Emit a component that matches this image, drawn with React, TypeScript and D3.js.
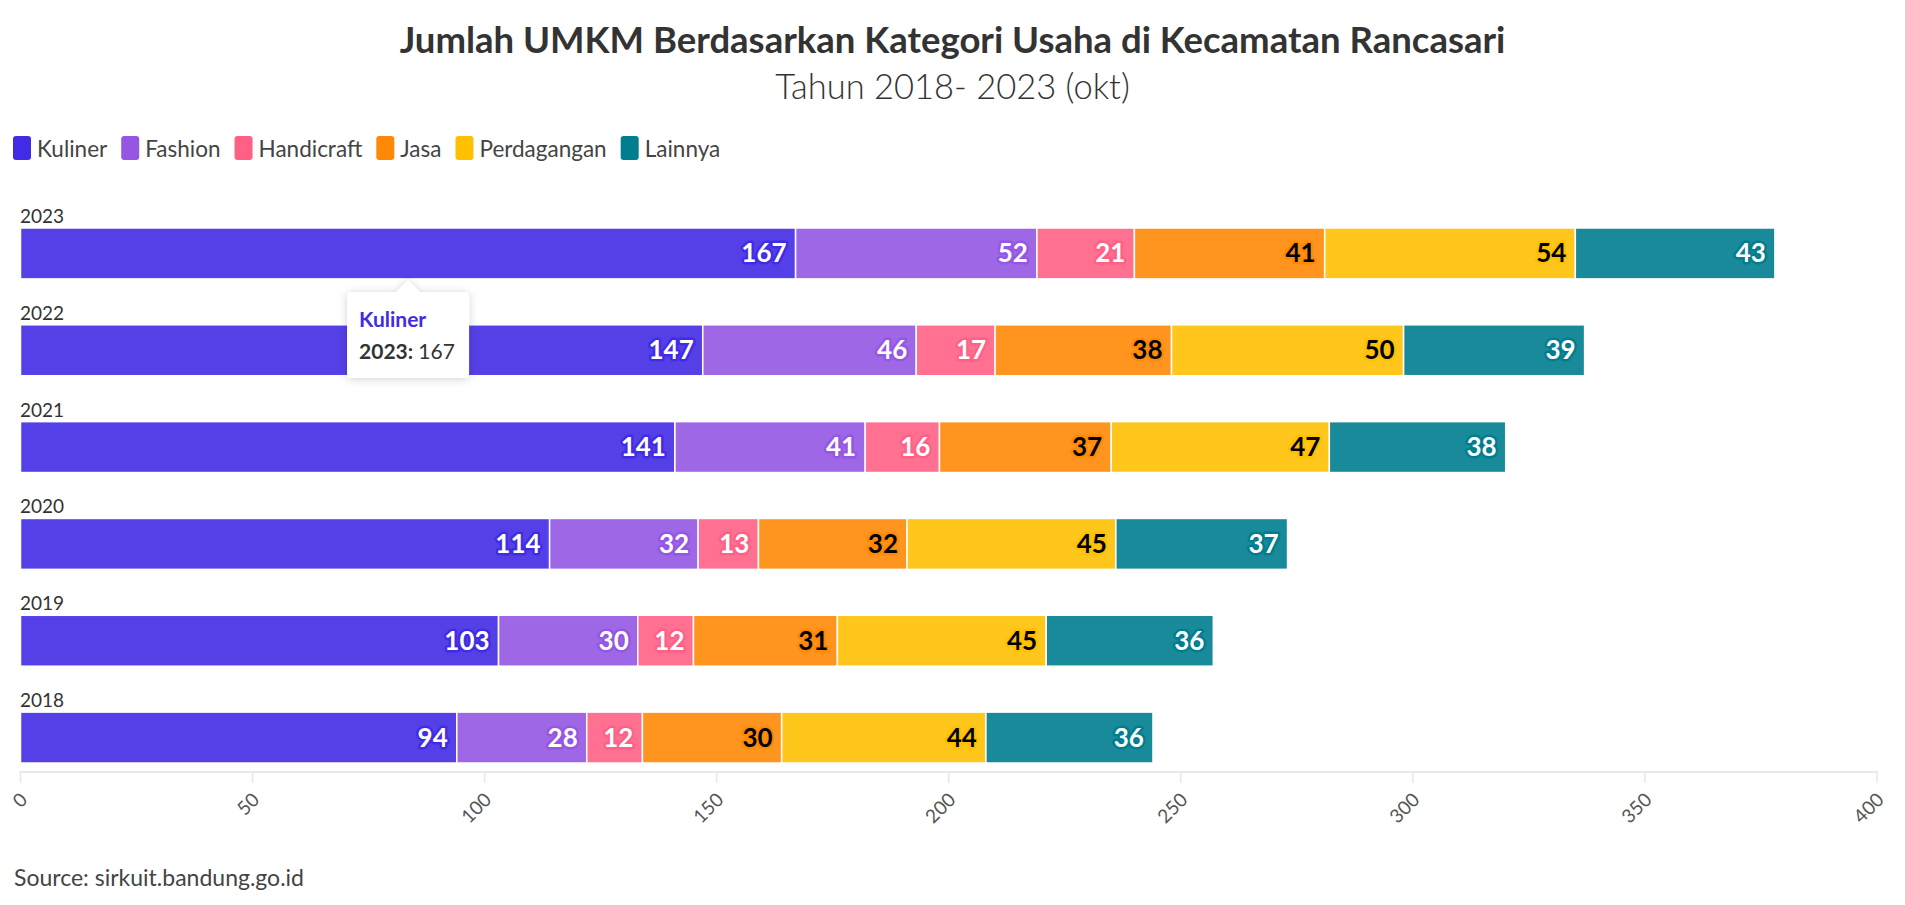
import React, { useEffect, useRef } from "react";
import * as d3 from "d3";

const years = ["2023", "2022", "2021", "2020", "2019", "2018"];
const categories = ["Kuliner", "Fashion", "Handicraft", "Jasa", "Perdagangan", "Lainnya"];
const colors = ["#422be5", "#9456e3", "#ff6085", "#ff8906", "#ffc002", "#007d8e"];
const labelColors = ["#fff", "#fff", "#fff", "#000", "#000", "#fff"];
const kuliner = [167, 147, 141, 114, 103, 94];
const fashion = [52, 46, 41, 32, 30, 28];
const handicraft = [21, 17, 16, 13, 12, 12];
const jasa = [41, 38, 37, 32, 31, 30];
const perdagangan = [54, 50, 47, 45, 45, 44];
const lainnya = [43, 39, 38, 37, 36, 36];
const xTicks = [0, 50, 100, 150, 200, 250, 300, 350, 400];

const W = 1905;
const H = 905;
const FONT = "Lato, 'Noto Sans', sans-serif";

export default function App() {
  const ref = useRef<SVGSVGElement | null>(null);

  useEffect(() => {
    const svg = d3.select(ref.current);
    svg.selectAll("*").remove();

    const series = [kuliner, fashion, handicraft, jasa, perdagangan, lainnya];
    const rows = years.map((yr, i) => {
      const r: any = { year: yr };
      categories.forEach((c, j) => (r[c] = series[j][i]));
      return r;
    });
    const stacked = d3.stack().keys(categories)(rows);

    const x = d3.scaleLinear().domain([0, 400]).range([20.5, 1877]);
    const y = d3.scaleBand().domain(years).range([228, 763]).paddingInner(46 / 97).paddingOuter(0);

    const defs = svg.append("defs");
    const f = defs.append("filter").attr("id", "shadow").attr("x", "-30%").attr("y", "-30%").attr("width", "160%").attr("height", "160%");
    f.append("feDropShadow").attr("dx", 0).attr("dy", 1).attr("stdDeviation", 4).attr("flood-color", "#000").attr("flood-opacity", 0.18);

    // Title
    svg.append("text").attr("x", W / 2).attr("y", 53).attr("text-anchor", "middle")
      .attr("font-family", FONT).attr("font-weight", 700).attr("font-size", 36.5).attr("fill", "#333")
      .text("Jumlah UMKM Berdasarkan Kategori Usaha di Kecamatan Rancasari");
    svg.append("text").attr("x", W / 2).attr("y", 99).attr("text-anchor", "middle")
      .attr("font-family", FONT).attr("font-weight", 300).attr("font-size", 34.5).attr("fill", "#333")
      .text("Tahun 2018- 2023 (okt)");

    // Legend
    const leg = svg.append("g");
    let lx = 13;
    categories.forEach((c, j) => {
      leg.append("rect").attr("x", lx).attr("y", 136).attr("width", 18).attr("height", 24).attr("rx", 3).attr("fill", colors[j]);
      const t = leg.append("text").attr("x", lx + 24).attr("y", 157).attr("font-family", FONT).attr("font-size", 22.5).attr("fill", "#444").text(c);
      const w = (t.node() as SVGTextElement).getComputedTextLength();
      lx = lx + 24 + w + 14;
    });

    // Axis
    const ax = svg.append("g");
    ax.append("line").attr("x1", x(0) - 1).attr("x2", x(400) + 1).attr("y1", 772).attr("y2", 772).attr("stroke", "#e8e8e8").attr("stroke-width", 2);
    xTicks.forEach((t) => {
      ax.append("line").attr("x1", x(t)).attr("x2", x(t)).attr("y1", 772).attr("y2", 783).attr("stroke", "#e8e8e8").attr("stroke-width", 1.5);
      ax.append("text").attr("transform", `translate(${x(t) + 8},${801}) rotate(-45)`).attr("text-anchor", "end")
        .attr("font-family", FONT).attr("font-size", 19).attr("fill", "#555").text(String(t));
    });

    // Year labels
    years.forEach((yr) => {
      svg.append("text").attr("x", 20).attr("y", (y(yr) as number) - 5).attr("font-family", FONT).attr("font-size", 19).attr("fill", "#333").text(yr);
    });

    // Bars
    stacked.forEach((s, j) => {
      const g = svg.append("g");
      g.selectAll("rect").data(s).join("rect")
        .attr("x", (d: any) => x(d[0]))
        .attr("y", (d: any) => y(d.data.year) as number)
        .attr("width", (d: any) => x(d[1]) - x(d[0]))
        .attr("height", y.bandwidth())
        .attr("fill", colors[j]).attr("fill-opacity", 0.9)
        .attr("stroke", "#fff").attr("stroke-width", 1.5);
    });
    stacked.forEach((s, j) => {
      const g = svg.append("g");
      g.selectAll("text").data(s).join("text")
        .attr("x", (d: any) => x(d[1]) - 9)
        .attr("y", (d: any) => (y(d.data.year) as number) + y.bandwidth() / 2 + 9)
        .attr("text-anchor", "end")
        .attr("font-family", FONT).attr("font-weight", 700).attr("font-size", 26)
        .attr("fill", labelColors[j])
        .attr("stroke", colors[j]).attr("stroke-width", 5).attr("stroke-linejoin", "round")
        .attr("paint-order", "stroke")
        .text((d: any) => String(d[1] - d[0]));
    });

    // Tooltip for Kuliner 2023
    const tv = kuliner[0];
    const cx = (x(0) + x(tv)) / 2;
    const barBottom = (y(years[0]) as number) + y.bandwidth();
    const top = barBottom + 13;
    const bw = 122, bh = 86;
    const tg = svg.append("g").attr("filter", "url(#shadow)");
    tg.append("path")
      .attr("d", `M${cx - bw / 2},${top + 4} a4,4 0 0 1 4,-4 L${cx - 12},${top} L${cx},${barBottom + 1} L${cx + 12},${top} L${cx + bw / 2 - 4},${top} a4,4 0 0 1 4,4 L${cx + bw / 2},${top + bh - 4} a4,4 0 0 1 -4,4 L${cx - bw / 2 + 4},${top + bh} a4,4 0 0 1 -4,-4 Z`)
      .attr("fill", "#fff");
    svg.append("text").attr("x", cx - bw / 2 + 12).attr("y", top + 35).attr("font-family", FONT).attr("font-weight", 700).attr("font-size", 21).attr("fill", colors[0]).text(categories[0]);
    const t2 = svg.append("text").attr("x", cx - bw / 2 + 12).attr("y", top + 67).attr("font-family", FONT).attr("font-size", 21).attr("fill", "#333");
    t2.append("tspan").attr("font-weight", 700).text(`${years[0]}: `);
    t2.append("tspan").text(String(tv));

    // Source
    svg.append("text").attr("x", 14).attr("y", 886).attr("font-family", FONT).attr("font-size", 23).attr("fill", "#444").text("Source: sirkuit.bandung.go.id");
  }, []);

  return (
    <svg ref={ref} width={W} height={H} style={{ position: "absolute", left: 0, top: 0, background: "#fff" }} />
  );
}
